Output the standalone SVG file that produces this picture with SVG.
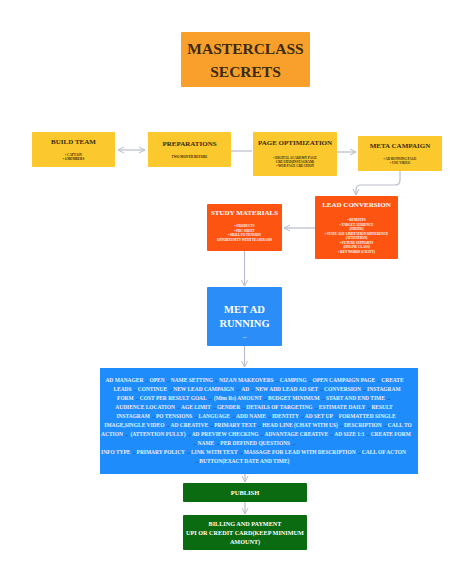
<svg xmlns="http://www.w3.org/2000/svg" width="474" height="582" viewBox="0 0 474 582">
<defs>
<marker id="ah" markerWidth="8" markerHeight="8" refX="7" refY="4" orient="auto" markerUnits="userSpaceOnUse">
<path d="M1,1 L7,4 L1,7" fill="none" stroke="#b9bccb" stroke-width="1"/>
</marker>
<marker id="ahs" markerWidth="8" markerHeight="8" refX="1" refY="4" orient="auto" markerUnits="userSpaceOnUse">
<path d="M7,1 L1,4 L7,7" fill="none" stroke="#b9bccb" stroke-width="1"/>
</marker>
<style>
.t{font-family:"Liberation Serif","DejaVu Serif",serif;font-weight:bold;text-anchor:middle}
.yel{fill:#fbc82d}
.red{fill:#fe5412}
.dark{fill:#3a2a0c}
.wh{fill:#ffffff}
.sm{font-size:3.3px}
.hd{font-size:7px}
.bb{font-size:5.45px;fill:#e6efff}
.ar{fill:#15325f;font-size:4.8px}
.con{fill:none;stroke:#b9bccb;stroke-width:1.2}
</style>
</defs>
<rect width="474" height="582" fill="#ffffff"/>

<g id="title">
<rect x="181" y="32" width="129" height="55" fill="#f9a02c" rx="1"/>
<text class="t dark" x="245.5" y="54" font-size="15.5">MASTERCLASS</text>
<text class="t dark" x="245.5" y="77" font-size="15.5">SECRETS</text>
</g>

<g id="build-team">
<rect x="32" y="132" width="83" height="35" class="yel" rx="1"/>
<text class="t dark hd" x="73.5" y="144">BUILD TEAM</text>
<text class="t dark sm" x="73.5" y="156">• CAPTAIN</text>
<text class="t dark sm" x="73.5" y="160">• 4 MEMBERS</text>
</g>

<g id="preparations">
<rect x="148" y="132" width="83" height="35" class="yel" rx="1"/>
<text class="t dark hd" x="189.5" y="146">PREPARATIONS</text>
<text class="t dark sm" x="189.5" y="158">TWO MONTH BEFORE</text>
</g>

<g id="page-optimization">
<rect x="253" y="132" width="84" height="44" class="yel" rx="1"/>
<text class="t dark hd" x="295" y="145">PAGE OPTIMIZATION</text>
<text class="t dark sm" x="295" y="159">• DIGITAL ACADEMY PAGE</text>
<text class="t dark sm" x="295" y="163">CREATED(INSTAGRAM)</text>
<text class="t dark sm" x="295" y="167">• WEB PAGE CREATION</text>
</g>

<g id="meta-campaign">
<rect x="358" y="136" width="84" height="35" class="yel" rx="1"/>
<text class="t dark hd" x="400" y="148">META CAMPAIGN</text>
<text class="t dark sm" x="400" y="160">• AD RUNNING PAGE</text>
<text class="t dark sm" x="400" y="164">• USE VIDEO</text>
</g>

<g id="lead-conversion">
<rect x="315" y="196" width="83" height="63" class="red" rx="1"/>
<text class="t wh hd" x="356.5" y="207">LEAD CONVERSION</text>
<text class="t wh sm" x="356.5" y="221">• BENEFITS</text>
<text class="t wh sm" x="356.5" y="225.5">• TARGET AUDIENCE</text>
<text class="t wh sm" x="356.5" y="230">(PHOTO)</text>
<text class="t wh sm" x="356.5" y="234.5">• STATE AGE LIMITATION DIFFERENCE</text>
<text class="t wh sm" x="356.5" y="239">(ATTENTION)</text>
<text class="t wh sm" x="356.5" y="243.5">• FUTURE SUPPORTS</text>
<text class="t wh sm" x="356.5" y="248">(ONLINE CLASS)</text>
<text class="t wh sm" x="356.5" y="252.5">• KEY WORDS (CRAFT)</text>
</g>

<g id="study-materials">
<rect x="207" y="204" width="75" height="47" class="red" rx="1"/>
<text class="t wh hd" x="244.5" y="215">STUDY MATERIALS</text>
<text class="t wh sm" x="244.5" y="227">• PRODUCTS</text>
<text class="t wh sm" x="244.5" y="231.5">• PDC SHEET</text>
<text class="t wh sm" x="244.5" y="236">• SKILL PO TENSION</text>
<text class="t wh sm" x="244.5" y="240.5">OPPORTUNITY WITH TEAM BASIS</text>
</g>

<g id="met-ad-running">
<rect x="207" y="287" width="75" height="59" fill="#2b8ef8" rx="1"/>
<text class="t wh" x="244.5" y="313" font-size="10.5">MET AD</text>
<text class="t wh" x="244.5" y="327" font-size="10.5">RUNNING</text>
<text class="t wh" x="244.5" y="338" font-size="5">...</text>
</g>

<g id="ad-steps">
<rect x="100" y="368" width="318" height="106" fill="#1e8cfb"/>
<text class="t bb" x="254.5" y="382">AD MANAGER <tspan class="ar">→</tspan>OPEN <tspan class="ar">→</tspan>NAME SETTING <tspan class="ar">→</tspan>NIZAN MAKEOVERS <tspan class="ar">→</tspan>CAMPING <tspan class="ar">→</tspan>OPEN CAMPAIGN PAGE <tspan class="ar">→</tspan>CREATE</text>
<text class="t bb" x="257" y="391">LEADS <tspan class="ar">→</tspan>CONTINUE <tspan class="ar">→</tspan>NEW LEAD CAMPAIGN <tspan class="ar">→</tspan> AD <tspan class="ar">→</tspan>NEW ADD LEAD AD  SET <tspan class="ar">→</tspan>CONVERSION <tspan class="ar">→</tspan>INSTAGRAM</text>
<text class="t bb" x="254" y="400">FORM <tspan class="ar">→</tspan>COST PER RESULT GOAL <tspan class="ar">→</tspan> (Mim Rs) AMOUNT <tspan class="ar">→</tspan>BUDGET MINIMUM <tspan class="ar">→</tspan>START AND END TIME <tspan class="ar">→</tspan></text>
<text class="t bb" x="254" y="409">AUDIENCE  LOCATION <tspan class="ar">→</tspan>AGE LIMIT <tspan class="ar">→</tspan>GENDER <tspan class="ar">→</tspan>DETAILS OF TARGETING <tspan class="ar">→</tspan>ESTIMATE DAILY <tspan class="ar">→</tspan>RESULT</text>
<text class="t bb" x="256" y="418">INSTAGRAM <tspan class="ar">→</tspan>PO TENSIONS <tspan class="ar">→</tspan>LANGUAGE <tspan class="ar">→</tspan>ADD NAME <tspan class="ar">→</tspan>IDENTITY <tspan class="ar">→</tspan>AD SET UP <tspan class="ar">→</tspan>FORMATTED  SINGLE</text>
<text class="t bb" x="258" y="427">IMAGE,SINGLE VIDEO <tspan class="ar">→</tspan>AD CREATIVE <tspan class="ar">→</tspan>PRIMARY TEXT <tspan class="ar">→</tspan>HEAD LINE  (CHAT WITH US) <tspan class="ar">→</tspan>DESCRIPTION <tspan class="ar">→</tspan>CALL TO</text>
<text class="t bb" x="256" y="436">ACTION <tspan class="ar">→</tspan> (ATTENTION FULLY) <tspan class="ar">→</tspan>AD PREVIEW CHECKING <tspan class="ar">→</tspan>ADVANTAGE CREATIVE <tspan class="ar">→</tspan>AD SIZE 1:1 <tspan class="ar">→</tspan>CREATE FORM</text>
<text class="t bb" x="244.5" y="445"><tspan class="ar">→</tspan>NAME <tspan class="ar">→</tspan>PER DEFINED QUESTIONS <tspan class="ar">→</tspan></text>
<text class="t bb" x="253.5" y="454">INFO TYPE <tspan class="ar">→</tspan>PRIMARY POLICY <tspan class="ar">→</tspan>LINK WITH TEXT <tspan class="ar">→</tspan>MASSAGE FOR LEAD WITH DESCRIPTION <tspan class="ar">→</tspan>CALL OF ACTON</text>
<text class="t bb" x="242" y="463"><tspan class="ar">→</tspan>BUTTON(EXACT DATE AND TIME)</text>
</g>

<g id="publish">
<rect x="183" y="483" width="124" height="19" fill="#0b6b10" rx="1"/>
<text class="t wh" x="245" y="495" font-size="6.5">PUBLISH</text>
</g>

<g id="billing">
<rect x="183" y="515" width="124" height="35" fill="#0b6b10" rx="1"/>
<text class="t wh" x="245" y="525.5" font-size="6.2">BILLING AND PAYMENT</text>
<text class="t wh" x="245" y="534.5" font-size="6.2">UPI OR CREDIT CARD(KEEP MINIMUM</text>
<text class="t wh" x="245" y="543.5" font-size="6.2">AMOUNT)</text>
</g>

<g id="connectors">
<path class="con" d="M118,150 H145" marker-start="url(#ahs)" marker-end="url(#ah)"/>
<path class="con" d="M231,151 H252"/>
<path class="con" d="M337,152 H356" marker-end="url(#ah)"/>
<path class="con" d="M400,171 V180 Q400,185 395,185 H361 Q356,185 356,190 V195" marker-end="url(#ah)"/>
<path class="con" d="M315,228 H284" marker-end="url(#ah)"/>
<path class="con" d="M244.5,251 V286" marker-end="url(#ah)"/>
<path class="con" d="M244.5,346 V367" marker-end="url(#ah)"/>
<path class="con" d="M245,474 V482" marker-end="url(#ah)"/>
<path class="con" d="M245,502 V514" marker-end="url(#ah)"/>
</g>
</svg>
